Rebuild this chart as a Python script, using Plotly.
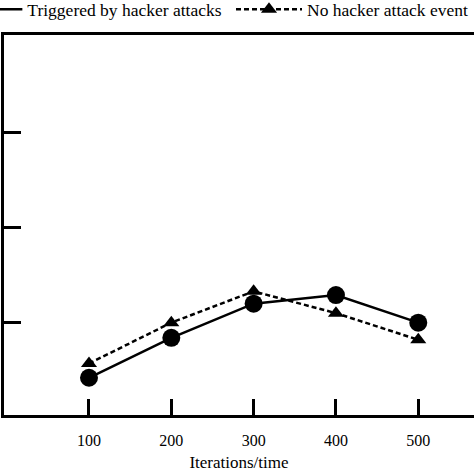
import plotly.graph_objects as go

iterations = [100, 200, 300, 400, 500]
triggered = [0.42, 0.84, 1.20, 1.29, 1.00]
no_attack = [0.57, 1.00, 1.33, 1.10, 0.82]
x_ticks = [100, 200, 300, 400, 500]
y_ticks = [1, 2, 3]

FONT = "Liberation Serif, Times New Roman, serif"

fig = go.Figure()
fig.add_trace(go.Scatter(
    x=iterations, y=no_attack, name="No hacker attack event",
    mode="lines+markers", legend="legend2",
    line=dict(color="black", width=2.5, dash="5px,3px"),
    marker=dict(symbol="triangle-up", size=14, color="black"),
))
fig.add_trace(go.Scatter(
    x=iterations, y=triggered, name="Triggered by hacker attacks",
    mode="lines+markers", legend="legend",
    line=dict(color="black", width=2.5),
    marker=dict(symbol="circle", size=18, color="black"),
))

legend_common = dict(
    orientation="h", xanchor="left", y=1.115, yanchor="top",
    itemwidth=66, font=dict(family=FONT, size=17.5, color="black"),
    bgcolor="rgba(0,0,0,0)",
)

fig.update_layout(
    width=474, height=474,
    margin=dict(l=4, r=0, t=35, b=59, autoexpand=False),
    paper_bgcolor="white", plot_bgcolor="white",
    font=dict(family=FONT, size=16, color="black"),
    showlegend=True,
    legend=dict(x=-0.112, **legend_common),
    legend2=dict(x=0.483, **legend_common),
    xaxis=dict(
        range=[-3.25, 567.7], tickvals=x_ticks, ticktext=[str(v) for v in x_ticks],
        showgrid=False, zeroline=False,
        showline=True, linecolor="black", linewidth=2.5, mirror=True,
        ticks="inside", ticklen=16, tickwidth=2.5, tickcolor="black",
        ticklabelstandoff=9,
        tickfont=dict(family=FONT, size=16, color="black"),
        title=dict(text="Iterations/time", font=dict(family=FONT, size=17, color="black"), standoff=9),
    ),
    yaxis=dict(
        range=[0.028, 4.028], tickvals=y_ticks,
        showgrid=False, zeroline=False, showticklabels=False,
        showline=True, linecolor="black", linewidth=2.5, mirror=False,
        ticks="inside", ticklen=17, tickwidth=2.5, tickcolor="black",
    ),
)

fig.write_html(
    "out.html",
    config={"displayModeBar": False},
    post_script="document.body.style.margin='0';document.body.style.overflow='hidden';",
)
